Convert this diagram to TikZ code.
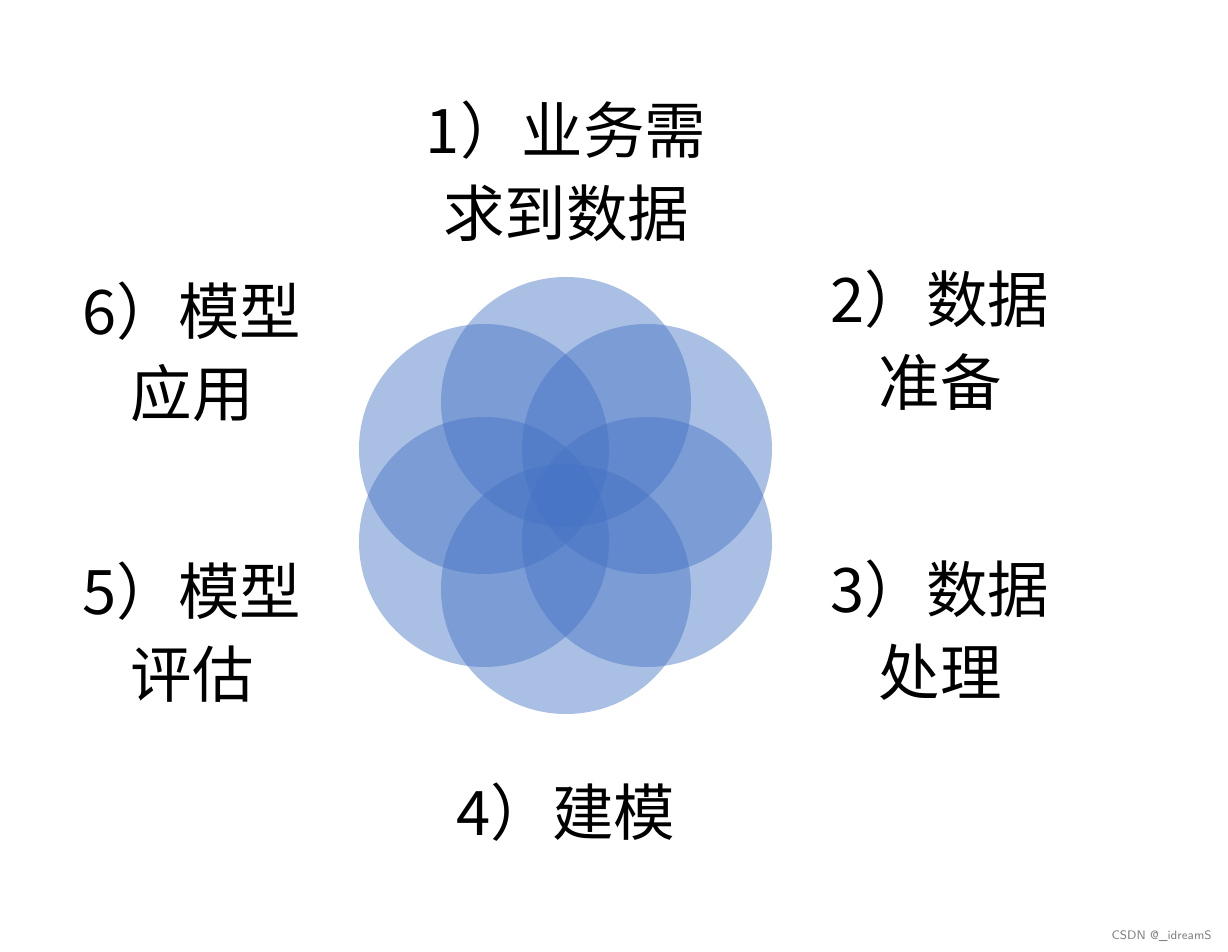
\documentclass[tikz,border=0pt]{standalone}
\usepackage{fontspec}
\newfontfamily\cjk{Noto Sans CJK SC}
\definecolor{cblue}{RGB}{68,114,196}
\begin{document}
\begin{tikzpicture}[x=0.02cm,y=-0.02cm,
  petal/.style={fill=cblue,fill opacity=0.45,draw=none},
  lbl/.style={align=center,font=\cjk\fontsize{35}{47}\selectfont,inner sep=0pt},
  wm/.style={font=\sffamily\fontsize{7}{8}\selectfont,text=gray,inner sep=0pt}]
\useasboundingbox (0,0) rectangle (1228,952);
\fill[white] (0,0) rectangle (1228,952);
\foreach \n/\x/\y in {c1/566/402,c2/647/449,c3/647/542,c4/566/589,c5/484/542,c6/484/449}
  \path[petal] (\x,\y) circle[radius=125] coordinate (\n);
\node[lbl] (t1) at (566,171) {1）业务需\\求到数据};
\node[lbl] (t2) at (940,340) {2）数据\\准备};
\node[lbl] (t3) at (940,630) {3）数据\\处理};
\node[lbl] (t4) at (566,812) {4）建模};
\node[lbl] (t5) at (192,632) {5）模型\\评估};
\node[lbl] (t6) at (192,352) {6）模型\\应用};
\node[wm,anchor=east] (w) at (1212,936) {CSDN @\_idreamS};
\end{tikzpicture}
\end{document}
